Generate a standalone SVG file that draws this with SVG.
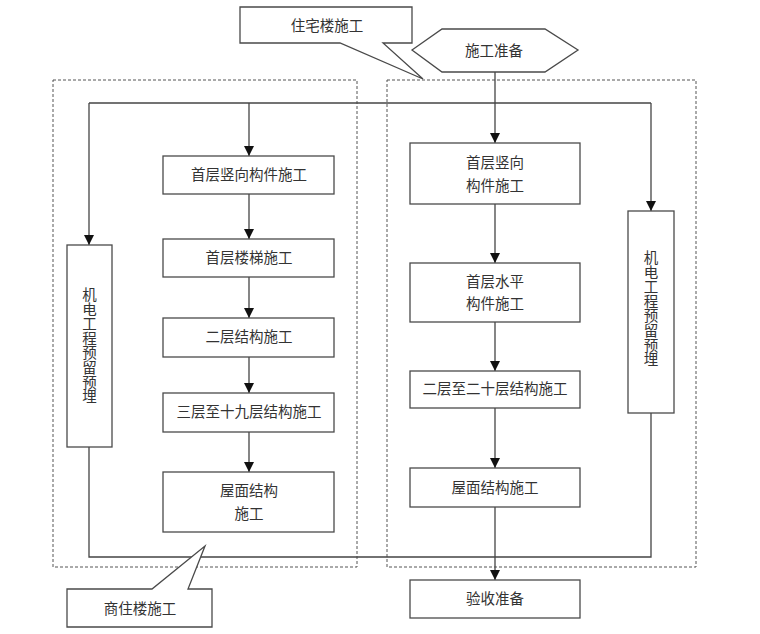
<svg xmlns="http://www.w3.org/2000/svg" width="760" height="634" viewBox="0 0 760 634">
<defs>
<style>
.b{fill:#fff;stroke:#4a4a4a;stroke-width:1.3}
.d{fill:none;stroke:#555;stroke-width:1;stroke-dasharray:3 2}
.c{fill:none;stroke:#444;stroke-width:1.3}
.t{font-family:"Liberation Sans","Noto Sans CJK SC",sans-serif;font-size:14.5px;fill:#333;text-anchor:middle;dominant-baseline:central}
</style>
<marker id="ah" viewBox="0 0 10 10" refX="10" refY="5" markerWidth="10" markerHeight="10" markerUnits="userSpaceOnUse" orient="auto">
<path d="M0,0 L10,5 L0,10 Z" fill="#111"/>
</marker>
</defs>
<rect width="760" height="634" fill="#fff"/>
<g id="groups">
<rect class="d" x="53" y="80" width="304" height="487"/>
<rect class="d" x="387" y="80" width="309" height="487"/>
</g>
<g id="connectors">
<path class="c" d="M89,103 H651"/>
<path class="c" d="M89,103 V245" marker-end="url(#ah)"/>
<path class="c" d="M249,103 V156" marker-end="url(#ah)"/>
<path class="c" d="M651,103 V211" marker-end="url(#ah)"/>
<path class="c" d="M495,72 V143" marker-end="url(#ah)"/>
<path class="c" d="M249,194 V239" marker-end="url(#ah)"/>
<path class="c" d="M249,277 V318" marker-end="url(#ah)"/>
<path class="c" d="M249,357 V393" marker-end="url(#ah)"/>
<path class="c" d="M249,432 V472" marker-end="url(#ah)"/>
<path class="c" d="M495,204 V263" marker-end="url(#ah)"/>
<path class="c" d="M495,322 V371" marker-end="url(#ah)"/>
<path class="c" d="M495,408 V468" marker-end="url(#ah)"/>
<path class="c" d="M495,507 V580" marker-end="url(#ah)"/>
<path class="c" d="M89,447 V557 H651 V413"/>
</g>
<g id="callout-zhuzhai">
<path class="b" d="M240,7 H412 V43 H383 L423,79 L340,43 H240 Z"/>
<text class="t" x="327" y="26">住宅楼施工</text>
</g>
<g id="start">
<polygon class="b" points="412,50 442,29 545,29 578,50 545,72 442,72"/>
<text class="t" x="494" y="51">施工准备</text>
</g>
<g id="L1"><rect class="b" x="163" y="156" width="171" height="38"/><text class="t" x="249" y="175">首层竖向构件施工</text></g>
<g id="L2"><rect class="b" x="163" y="239" width="171" height="38"/><text class="t" x="249" y="258">首层楼梯施工</text></g>
<g id="L3"><rect class="b" x="163" y="318" width="171" height="39"/><text class="t" x="249" y="337">二层结构施工</text></g>
<g id="L4"><rect class="b" x="163" y="393" width="171" height="39"/><text class="t" x="249" y="412">三层至十九层结构施工</text></g>
<g id="L5"><rect class="b" x="163" y="472" width="171" height="60"/><text class="t" x="249" y="491">屋面结构</text><text class="t" x="249" y="514">施工</text></g>
<g id="LMEP"><rect class="b" x="67" y="245" width="45" height="202"/>
<text class="t" x="89.5"><tspan x="89.5" y="295">机</tspan><tspan x="89.5" y="309.6">电</tspan><tspan x="89.5" y="324.2">工</tspan><tspan x="89.5" y="338.8">程</tspan><tspan x="89.5" y="353.4">预</tspan><tspan x="89.5" y="368">留</tspan><tspan x="89.5" y="382.6">预</tspan><tspan x="89.5" y="397.2">埋</tspan></text></g>
<g id="R1"><rect class="b" x="410" y="143" width="170" height="61"/><text class="t" x="495" y="163">首层竖向</text><text class="t" x="495" y="186">构件施工</text></g>
<g id="R2"><rect class="b" x="410" y="263" width="170" height="59"/><text class="t" x="495" y="282">首层水平</text><text class="t" x="495" y="304">构件施工</text></g>
<g id="R3"><rect class="b" x="410" y="371" width="170" height="37"/><text class="t" x="495" y="389">二层至二十层结构施工</text></g>
<g id="R4"><rect class="b" x="410" y="468" width="170" height="39"/><text class="t" x="495" y="488">屋面结构施工</text></g>
<g id="RMEP"><rect class="b" x="628" y="211" width="46" height="202"/>
<text class="t" x="651"><tspan x="651" y="258">机</tspan><tspan x="651" y="272.6">电</tspan><tspan x="651" y="287.2">工</tspan><tspan x="651" y="301.8">程</tspan><tspan x="651" y="316.4">预</tspan><tspan x="651" y="331">留</tspan><tspan x="651" y="345.6">预</tspan><tspan x="651" y="360.2">埋</tspan></text></g>
<g id="end"><rect class="b" x="410" y="580" width="170" height="38"/><text class="t" x="495" y="599">验收准备</text></g>
<g id="callout-shangzhu">
<path class="b" d="M67,589 H152 L205,546 L188,589 H212 V627 H67 Z"/>
<text class="t" x="140" y="609">商住楼施工</text>
</g>
</svg>
